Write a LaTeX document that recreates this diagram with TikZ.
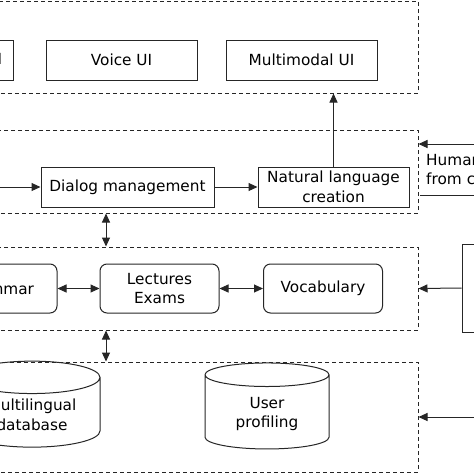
\documentclass[tikz,border=0pt]{standalone}
\usepackage{fontspec}
\setmainfont{DejaVu Sans}
\usetikzlibrary{arrows.meta,shapes.geometric}

\tikzset{
    layer/.style={draw=black!85, line width=1pt, dash pattern=on 4pt off 3pt},
    block/.style={draw=black!85, line width=1pt, minimum width=151pt, minimum height=40pt,
        align=center, font=\fontsize{15.3}{19.5}\selectfont},
    unit/.style={block, rounded corners=7pt, minimum width=119pt, minimum height=49pt},
    store/.style={block, cylinder, shape border rotate=90, aspect=0.34,
        minimum width=124pt, minimum height=86pt},
    link/.style={draw=black!85, line width=1pt},
}

\begin{document}
\begin{tikzpicture}[x=1pt, y=-1pt, >={Triangle[length=9pt,width=8pt]}]
            \useasboundingbox (0,0) rectangle (474,474);
            \clip (0,0) rectangle (474,474);
            % layers
            \node[layer, minimum width=578pt, minimum height=91.5pt] (uilayer)  at (129,47.25) {};
            \node[layer, minimum width=578pt, minimum height=83pt]   (dlglayer) at (129,171.5) {};
            \node[layer, minimum width=578pt, minimum height=83pt]   (lrnlayer) at (129,288.5) {};
            \node[layer, minimum width=578pt, minimum height=110pt]  (datlayer) at (129,417) {};
            % user interfaces
            \node[block, text width=129pt, inner xsep=11pt, align=right] (gui) at (-62.5,60) {Graphical UI};
            \node[block] (voice) at (121.5,60) {Voice UI};
            \node[block] (multi) at (301.5,60) {Multimodal UI};
            % dialog
            \coordinate (input) at (-20,187);
            \node[block, minimum width=173pt] (dialog) at (127.5,187) {Dialog management};
            \node[block] (nlc) at (333.5,187) {Natural language\\creation};
            \node[anchor=north west, text width=70pt, minimum height=51pt, inner xsep=6pt,
                align=left, font=\fontsize{15.3}{19}\selectfont] (human) at (420,144) {Human\\from c};
            % learning
            \node[unit] (grammar) at (-2.5,288.5) {Grammar};
            \node[unit] (lectures) at (159.5,288.5) {Lectures\\Exams};
            \node[unit] (vocab) at (323,288.5) {Vocabulary};
            \node[block, minimum width=116pt, minimum height=88pt] (tutor) at (520,288) {};
            % data
            \node[store, minimum width=136pt] (multidb) at (32,415) {Multilingual\\database};
            \node[store] (profile) at (267,414) {User\\profiling};
            \coordinate (feed) at (490,417);
            \coordinate (lnk) at (106,0);
            % arrows
            \draw[link, ->] (input) -- (dialog);
            \draw[link, ->] (dialog) -- (nlc);
            \draw[link, ->] (nlc.north) -- (nlc.north |- uilayer.south);
            \draw[link] (human.south west) -- (human.south east);
            \draw[link, ->] (human.north east) -- (dlglayer.east |- human.north);
            \draw[link, <->] (lnk |- dlglayer.south) -- (lnk |- lrnlayer.north);
            \draw[link, <->] (lnk |- lrnlayer.south) -- (lnk |- datlayer.north);
            \draw[link, <->] (grammar) -- (lectures);
            \draw[link, <->] (lectures) -- (vocab);
            \draw[link, ->] (tutor.west) -- (lrnlayer.east);
            \draw[link, ->] (feed) -- (datlayer.east);
\end{tikzpicture}
\end{document}
